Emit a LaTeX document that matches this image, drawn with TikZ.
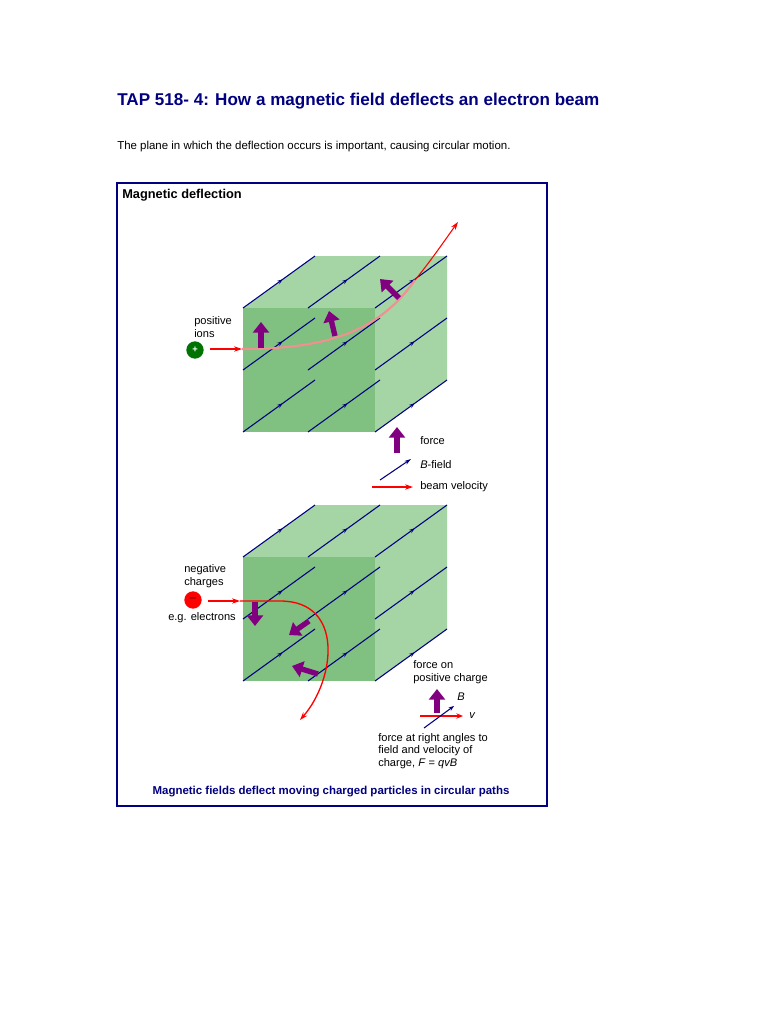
\documentclass[tikz,border=0pt]{standalone}
\usepackage{fontspec}
\setmainfont{Liberation Sans}
\usetikzlibrary{arrows.meta,decorations.markings}
\definecolor{navy}{HTML}{000080}
\definecolor{frontg}{HTML}{80C080}
\definecolor{sideg}{HTML}{A5D4A5}
\definecolor{purp}{HTML}{800080}
\definecolor{pinkc}{HTML}{F09090}
\tikzset{
  fline/.style={navy,line width=0.8pt,postaction={decorate},decoration={markings,mark=at position 0.55 with {\arrow{Stealth[length=4pt,width=3pt]}}}},
  force/.style={purp,line width=4pt,-{Triangle[length=8pt,width=12pt]}},
  beam/.style={red,line width=0.8pt,-{Stealth[length=6pt,width=4pt]}},
  lbl/.style={font=\fontsize{8.3pt}{9.5pt}\selectfont,anchor=west,inner sep=0pt,align=left},
}
\newcommand{\cube}[1]{%
  \fill[sideg] (243,308+#1) -- (315,256+#1) -- (447,256+#1) -- (447,380+#1) -- (375,432+#1) -- (375,308+#1) -- cycle;
  \fill[frontg] (243,308+#1) rectangle (375,432+#1);
  \foreach \xx in {243,308,375}{\foreach \yy in {308,370,432}{
    \draw[fline] (\xx,\yy+#1) -- ++(72,-52);}}
}
\begin{document}
\begin{tikzpicture}[x=0.75pt,y=-0.75pt]
\useasboundingbox[fill=white] (0,0) rectangle (768,1024);
\node[anchor=west,inner sep=0pt,text=navy,font=\bfseries\fontsize{12.8pt}{14pt}\selectfont] (title) at (117,101) {TAP 518- 4: How a magnetic field deflects an electron beam};
\node[lbl,font=\fontsize{8.6pt}{10pt}\selectfont] (sub) at (117,147) {The plane in which the deflection occurs is important, causing circular motion.};
\draw[navy,line width=1.2pt] (117,183) rectangle (547,806);
\node[lbl,font=\bfseries\fontsize{9.6pt}{11pt}\selectfont] (head) at (122,195) {Magnetic deflection};
\node[inner sep=0pt,text=navy,font=\bfseries\fontsize{8.6pt}{10pt}\selectfont] (cap) at (331,792) {Magnetic fields deflect moving charged particles in circular paths};
% top cube
\cube{0}
\node[circle,fill=green!45!black,text=white,inner sep=0pt,minimum size=13pt,font=\bfseries\fontsize{7pt}{7pt}\selectfont] (ion) at (195,350) {+};
\node[lbl] (ionl) at (194,327) {positive\\ions};
\coordinate (a1) at (210,349); \coordinate (a2) at (242,349);
\coordinate (c2) at (415,280); \coordinate (c3) at (458,222);
\draw[beam] (a1) -- (a2);
\draw[pinkc,line width=1.6pt] (242,349) .. controls (330,349) and (380,330) .. (c2);
\draw[beam] (c2) .. controls (430,262) and (445,240) .. (c3);
\draw[force] (261,348) -- (261,322);
\draw[force] (335,336) -- (329,311);
\draw[force] (399,298) -- (380,279);
% legend 1
\draw[force] (397,453) -- (397,427);
\node[lbl] (fl) at (420,441) {force};
\draw[navy,line width=0.8pt,-{Stealth[length=5pt,width=3pt]}] (380,480) -- (411,459);
\node[lbl] (bl) at (420,465) {\textit{B}-field};
\draw[beam] (372,487) -- (413,487);
\node[lbl] (vl) at (420,487) {beam velocity};
% bottom cube
\cube{249}
\node[circle,fill=red,text=red!40!black,inner sep=0pt,minimum size=13pt,font=\bfseries\fontsize{9pt}{9pt}\selectfont] (el) at (193,600) {--};
\node[lbl] (nl) at (184,576) {negative\\charges};
\node[lbl] (eg) at (168,618) {e.g. electrons};
\draw[beam] (208,601) -- (240,601);
\draw[beam,line width=1pt] (240,601) -- (280,601) .. controls (345,601) and (335,680) .. (300,720);
\draw[force] (255,602) -- (255,626);
\draw[force] (309,621) -- (289,635);
\draw[force] (318,674) -- (292,666);
% legend 2
\node[lbl] (fp) at (413,672) {force on\\positive charge};
\draw[red,line width=0.8pt,-{Stealth[length=5pt,width=4pt]}] (420,716) -- (463,716);
\draw[navy,line width=0.8pt,-{Stealth[length=4pt,width=3pt]}] (424,728) -- (454,706);
\draw[force] (437,713) -- (437,689);
\node[lbl] (bb) at (457,697) {\textit{B}};
\node[lbl] (vv) at (469,716) {\textit{v}};
\node[lbl] (ra) at (378,751) {force at right angles to\\field and velocity of\\charge, \textit{F} = \textit{qvB}};
\end{tikzpicture}
\end{document}
